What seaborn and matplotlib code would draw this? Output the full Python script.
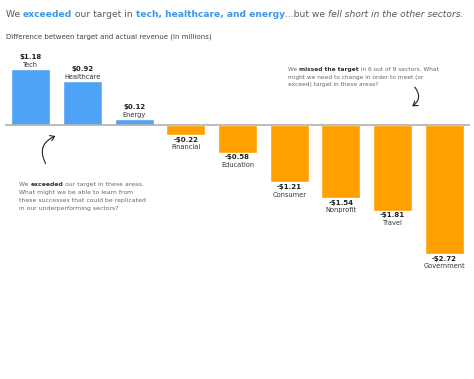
import matplotlib
matplotlib.use("Agg")
import matplotlib.pyplot as plt
import seaborn as sns
import pandas as pd

sectors = ["Tech", "Healthcare", "Energy", "Financial", "Education", "Consumer",
           "Nonprofit", "Travel", "Government"]
values = [1.18, 0.92, 0.12, -0.22, -0.58, -1.21, -1.54, -1.81, -2.72]

BLUE = "#4fa3f7"
ORANGE = "#ffa000"
GRAY = "#595959"
TXT = "#333333"

sns.set_theme(style="white")
plt.rcParams['font.family'] = ['DejaVu Sans']

W, H = 474, 379
fig = plt.figure(figsize=(W / 100, H / 100), dpi=100)
left_px, right_px = 5, 470
zero_px, ppu = 125, 47.5
ymin, ymax = -3.5, 1.5
top_px = zero_px - ymax * ppu
bot_px = zero_px - ymin * ppu
ax = fig.add_axes([left_px / W, 1 - bot_px / H, (right_px - left_px) / W, (bot_px - top_px) / H])

df = pd.DataFrame({"sector": sectors, "value": values})
df["sign"] = ["pos" if v >= 0 else "neg" for v in values]
sns.barplot(data=df, x="sector", y="value", hue="sign", palette={"pos": BLUE, "neg": ORANGE},
            dodge=False, width=0.75, saturation=1, legend=False, ax=ax)
ax.set_xlim(-0.5, len(sectors) - 0.5)
ax.set_ylim(ymin, ymax)
ax.axhline(0, color="#b0b0b0", lw=1.2, zorder=3)
ax.axis("off")

for i, (s, v) in enumerate(zip(sectors, values)):
    lab = f"${v:.2f}" if v >= 0 else f"-${abs(v):.2f}"
    if v >= 0:
        ax.annotate(s, (i, v), xytext=(0, 1), textcoords="offset points", ha="center", va="bottom",
                    fontsize=4.8, color=TXT)
        ax.annotate(lab, (i, v), xytext=(0, 6.5), textcoords="offset points", ha="center", va="bottom",
                    fontsize=5, color="#222222", fontweight="bold")
    else:
        ax.annotate(lab, (i, v), xytext=(0, -1), textcoords="offset points", ha="center", va="top",
                    fontsize=5, color="#222222", fontweight="bold")
        ax.annotate(s, (i, v), xytext=(0, -6.5), textcoords="offset points", ha="center", va="top",
                    fontsize=4.8, color=TXT)


def chain(x_px, y_px, pieces, fontsize):
    prev = None
    for txt, color, weight, style in pieces:
        if prev is None:
            prev = fig.text(x_px / W, 1 - y_px / H, txt, color=color, fontweight=weight,
                            fontstyle=style, fontsize=fontsize, ha="left", va="baseline")
        else:
            prev = ax.annotate(txt, xy=(1, 0), xycoords=prev, xytext=(0, 0), textcoords="offset points",
                               color=color, fontweight=weight, fontstyle=style, fontsize=fontsize,
                               ha="left", va="bottom", annotation_clip=False)
    return prev


B = "bold"
N = "normal"
chain(6, 17, [("We ", GRAY, N, "normal"), ("exceeded", "#3d97ea", B, "normal"),
              (" our target in ", GRAY, N, "normal"),
              ("tech, healthcare, and energy", "#3d97ea", B, "normal"),
              ("...but we ", GRAY, N, "normal"), ("fell short in the other sectors.", GRAY, N, "italic")],
      6.6)
fig.text(6 / W, 1 - 38 / H, "Difference between target and actual revenue (in millions)",
         fontsize=5.0, color="#444444", ha="left", va="baseline")

ann_c = "#6a6a6a"
fsL = 4.4
chain(19, 186, [("We ", ann_c, N, "normal"), ("exceeded", "#333333", B, "normal"),
                (" our target in these areas.", ann_c, N, "normal")], fsL)
for k, line in enumerate(["What might we be able to learn from",
                          "these successes that could be replicated",
                          "in our underperforming sectors?"]):
    fig.text(19 / W, 1 - (194 + 8 * k) / H, line, fontsize=fsL, color=ann_c, ha="left", va="baseline")

fsR = 4.2
chain(288, 71, [("We ", ann_c, N, "normal"), ("missed the target", "#333333", B, "normal"),
                (" in 6 out of 9 sectors. What", ann_c, N, "normal")], fsR)
for k, line in enumerate(["might we need to change in order to meet (or",
                          "exceed) target in these areas?"]):
    fig.text(288 / W, 1 - (78.5 + 7.5 * k) / H, line, fontsize=fsR, color=ann_c, ha="left", va="baseline")


def fpx(x, y):
    return (x / W, 1 - y / H)


fig.add_artist(matplotlib.patches.FancyArrowPatch(
    fpx(47, 166), fpx(58, 135), transform=fig.transFigure, connectionstyle="arc3,rad=-0.6",
    arrowstyle="->,head_length=3,head_width=2", color="#222222", lw=0.8))
fig.add_artist(matplotlib.patches.FancyArrowPatch(
    fpx(413, 85), fpx(410, 108), transform=fig.transFigure, connectionstyle="arc3,rad=-0.6",
    arrowstyle="->,head_length=3,head_width=2", color="#222222", lw=0.8))

fig.savefig("out.png", dpi=100, facecolor="white")
